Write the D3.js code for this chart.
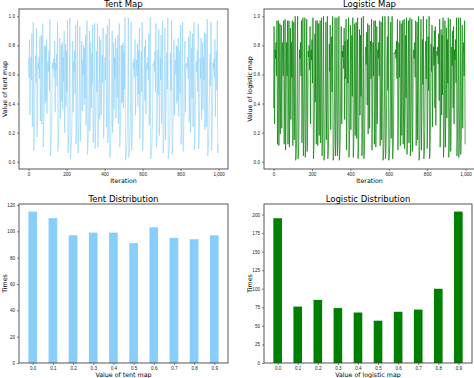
<!DOCTYPE html>
<html>
<head>
<meta charset="utf-8">
<script src="https://d3js.org/d3.v7.min.js"></script>
<style>
body { margin: 0; background: #fff; }
svg { display: block; font-family: "DejaVu Sans", sans-serif; }
.tick text { font-size: 4.6px; fill: #222; }
.tick line { stroke: #333; stroke-width: 0.6; }
.domain { display: none; }
</style>
</head>
<body>
<div id="chart"></div>
<script>
// tent map values (400 samples over 1000 iterations)
var tentValues = [
 0.71,0.58,0.84,0.32,0.64,0.72,0.56,0.88,0.24,0.48,0.96,0.08,0.16,0.32,0.64,0.73,0.54,0.92,0.17,0.34,
 0.68,0.64,0.72,0.57,0.86,0.28,0.56,0.87,0.26,0.52,0.95,0.10,0.20,0.40,0.80,0.40,0.79,0.42,0.84,0.33,
 0.66,0.69,0.62,0.76,0.49,0.98,0.04,0.08,0.16,0.33,0.66,0.68,0.64,0.71,0.58,0.83,0.34,0.68,0.63,0.74,
 0.52,0.96,0.07,0.14,0.28,0.57,0.85,0.30,0.60,0.80,0.41,0.82,0.36,0.72,0.55,0.90,0.20,0.40,0.81,0.38,
 0.76,0.48,0.97,0.06,0.12,0.25,0.50,0.99,0.02,0.05,0.10,0.21,0.42,0.83,0.34,0.69,0.62,0.76,0.47,0.94,
 0.12,0.24,0.49,0.97,0.06,0.13,0.26,0.53,0.93,0.14,0.29,0.58,0.83,0.35,0.70,0.60,0.80,0.39,0.78,0.44,
 0.87,0.25,0.51,0.97,0.05,0.11,0.22,0.45,0.90,0.21,0.41,0.82,0.37,0.74,0.53,0.94,0.13,0.26,0.52,0.95,
 0.09,0.19,0.38,0.76,0.48,0.95,0.10,0.21,0.43,0.86,0.29,0.58,0.84,0.32,0.63,0.73,0.54,0.92,0.16,0.32,
 0.64,0.72,0.56,0.88,0.24,0.47,0.94,0.13,0.26,0.51,0.98,0.03,0.07,0.14,0.28,0.55,0.90,0.20,0.41,0.82,
 0.36,0.72,0.57,0.85,0.30,0.61,0.78,0.44,0.87,0.26,0.52,0.95,0.10,0.20,0.40,0.80,0.40,0.80,0.41,0.82,
 0.37,0.75,0.50,0.99,0.01,0.03,0.06,0.12,0.25,0.50,0.99,0.03,0.06,0.12,0.24,0.48,0.96,0.08,0.17,0.34,
 0.68,0.64,0.71,0.58,0.84,0.32,0.65,0.70,0.59,0.81,0.38,0.77,0.46,0.92,0.16,0.31,0.62,0.76,0.48,0.96,
 0.08,0.15,0.30,0.60,0.79,0.42,0.84,0.33,0.66,0.68,0.64,0.72,0.56,0.88,0.25,0.50,0.99,0.02,0.04,0.08,
 0.17,0.34,0.67,0.66,0.69,0.62,0.76,0.48,0.95,0.10,0.19,0.39,0.77,0.46,0.91,0.18,0.36,0.72,0.56,0.87,
 0.26,0.51,0.97,0.06,0.11,0.23,0.46,0.92,0.15,0.31,0.62,0.75,0.50,0.99,0.02,0.05,0.09,0.19,0.38,0.75,
 0.49,0.97,0.05,0.10,0.21,0.42,0.84,0.32,0.65,0.70,0.60,0.80,0.40,0.79,0.42,0.85,0.31,0.62,0.76,0.47,
 0.94,0.12,0.24,0.48,0.96,0.07,0.15,0.29,0.58,0.83,0.34,0.67,0.66,0.68,0.64,0.72,0.57,0.86,0.27,0.55,
 0.90,0.20,0.39,0.78,0.44,0.88,0.24,0.48,0.96,0.08,0.16,0.33,0.66,0.69,0.62,0.76,0.48,0.95,0.09,0.18,
 0.36,0.71,0.57,0.85,0.29,0.59,0.82,0.36,0.72,0.56,0.89,0.22,0.44,0.88,0.24,0.49,0.98,0.04,0.08,0.16,
 0.31,0.63,0.74,0.52,0.96,0.08,0.17,0.34,0.68,0.64,0.71,0.58,0.84,0.31,0.62,0.76,0.49,0.97,0.06,0.12
];

// logistic map values, same sampling
var logisticValues = [
 0.37,0.93,0.26,0.77,0.71,0.82,0.59,0.97,0.12,0.42,0.97,0.11,0.39,0.95,0.19,0.62,0.94,0.23,0.71,0.82,
 0.59,0.97,0.12,0.42,0.98,0.08,0.29,0.82,0.59,0.97,0.12,0.42,0.97,0.10,0.36,0.92,0.29,0.82,0.58,0.97,
 0.11,0.40,0.96,0.15,0.51,1.00,0.01,0.04,0.15,0.52,1.00,0.02,0.07,0.26,0.77,0.71,0.82,0.59,0.97,0.13,
 0.45,0.99,0.04,0.16,0.54,0.99,0.03,0.12,0.43,0.98,0.07,0.26,0.76,0.72,0.80,0.63,0.93,0.26,0.77,0.70,
 0.84,0.54,0.99,0.02,0.09,0.33,0.88,0.41,0.97,0.12,0.41,0.97,0.11,0.39,0.95,0.18,0.59,0.97,0.13,0.45,
 0.99,0.04,0.15,0.51,1.00,0.01,0.05,0.18,0.60,0.96,0.15,0.50,1.00,0.02,0.08,0.28,0.81,0.62,0.94,0.22,
 0.69,0.86,0.48,1.00,0.01,0.03,0.13,0.44,0.99,0.04,0.16,0.55,0.99,0.04,0.14,0.48,1.00,0.01,0.05,0.20,
 0.63,0.93,0.26,0.76,0.72,0.80,0.64,0.92,0.29,0.83,0.57,0.98,0.08,0.30,0.84,0.54,0.99,0.03,0.11,0.38,
 0.94,0.22,0.68,0.87,0.45,0.99,0.03,0.11,0.39,0.95,0.18,0.60,0.96,0.16,0.54,0.99,0.02,0.10,0.35,0.91,
 0.32,0.87,0.45,0.99,0.04,0.15,0.51,1.00,0.02,0.06,0.24,0.73,0.79,0.67,0.89,0.39,0.95,0.19,0.62,0.94,
 0.23,0.71,0.83,0.57,0.98,0.08,0.29,0.82,0.59,0.97,0.12,0.42,0.97,0.10,0.37,0.93,0.26,0.77,0.71,0.82,
 0.59,0.97,0.11,0.40,0.96,0.15,0.52,1.00,0.01,0.04,0.14,0.48,1.00,0.02,0.06,0.22,0.69,0.86,0.49,1.00,
 0.01,0.03,0.11,0.40,0.96,0.16,0.53,1.00,0.02,0.07,0.25,0.75,0.75,0.74,0.77,0.71,0.83,0.57,0.98,0.08,
 0.29,0.82,0.58,0.97,0.11,0.39,0.95,0.18,0.59,0.97,0.12,0.42,0.98,0.09,0.32,0.87,0.44,0.99,0.05,0.18,
 0.59,0.97,0.13,0.45,0.99,0.04,0.17,0.56,0.98,0.07,0.25,0.74,0.77,0.71,0.82,0.58,0.97,0.11,0.40,0.96,
 0.15,0.52,1.00,0.01,0.04,0.17,0.57,0.98,0.08,0.30,0.84,0.53,1.00,0.02,0.06,0.23,0.71,0.83,0.57,0.98,
 0.09,0.31,0.86,0.49,1.00,0.02,0.08,0.28,0.81,0.62,0.94,0.24,0.73,0.79,0.66,0.90,0.37,0.93,0.25,0.75,
 0.76,0.73,0.79,0.67,0.88,0.42,0.98,0.10,0.35,0.91,0.32,0.87,0.46,0.99,0.03,0.12,0.42,0.97,0.10,0.36,
 0.92,0.30,0.84,0.54,0.99,0.03,0.12,0.43,0.98,0.07,0.27,0.79,0.66,0.90,0.37,0.93,0.26,0.77,0.70,0.84,
 0.54,0.99,0.04,0.16,0.55,0.99,0.03,0.13,0.44,0.99,0.05,0.19,0.62,0.94,0.23,0.71,0.82,0.59,0.97,0.12
];
var iterationStep = 2.5;

// histogram bins and counts
var bins = [0.0, 0.1, 0.2, 0.3, 0.4, 0.5, 0.6, 0.7, 0.8, 0.9];
var tentCounts = [115, 110, 97, 99, 99, 91, 103, 95, 94, 97];
var logisticCounts = [195, 76, 85, 74, 68, 57, 69, 72, 100, 204];

var mapTicks = [0, 200, 400, 600, 800, 1000];
var valueTicks = [0.0, 0.2, 0.4, 0.6, 0.8, 1.0];
var tentCountTicks = [0, 20, 40, 60, 80, 100, 120];
var logisticCountTicks = [0, 25, 50, 75, 100, 125, 150, 175, 200];

var width = 474, height = 378;
var svg = d3.select('#chart').append('svg')
    .attr('width', width)
    .attr('height', height);

function frame(g, w, h) {
    g.append('rect')
        .attr('width', w).attr('height', h)
        .attr('fill', 'none')
        .attr('stroke', '#444')
        .attr('stroke-width', 0.9);
}

function labels(g, w, h, title, xlab, ylab, ylabX) {
    g.append('text').attr('x', w / 2).attr('y', -2.5)
        .attr('text-anchor', 'middle').attr('font-size', 8.5).text(title);
    g.append('text').attr('x', w / 2).attr('y', h + 13.5)
        .attr('text-anchor', 'middle').attr('font-size', 6.3).text(xlab);
    g.append('text').attr('transform', 'translate(' + ylabX + ',' + (h / 2) + ') rotate(-90)')
        .attr('text-anchor', 'middle').attr('font-size', 6.3).text(ylab);
}

function mapPanel(left, top, w, h, values, color, width, opacity, title, ylab, ylabX) {
    var g = svg.append('g').attr('transform', 'translate(' + left + ',' + top + ')');
    var x = d3.scaleLinear().domain([-50, 1049]).range([0, w]);
    var y = d3.scaleLinear().domain([-0.05, 1.05]).range([h, 0]);

    var line = d3.line()
        .x(function(d, i) { return x(i * iterationStep); })
        .y(function(d) { return y(d); });

    g.append('path').datum(values)
        .attr('d', line)
        .attr('fill', 'none')
        .attr('stroke', color)
        .attr('stroke-width', width)
        .attr('stroke-opacity', opacity);

    g.append('g').attr('transform', 'translate(0,' + h + ')')
        .call(d3.axisBottom(x).tickValues(mapTicks).tickSize(2).tickPadding(1.5));
    g.append('g')
        .call(d3.axisLeft(y).tickValues(valueTicks).tickSize(2).tickPadding(2).tickFormat(d3.format('.1f')));
    frame(g, w, h);
    labels(g, w, h, title, 'Iteration', ylab, ylabX);
}

function barPanel(left, top, w, h, counts, ticks, color, title, xlab, ylabX) {
    var g = svg.append('g').attr('transform', 'translate(' + left + ',' + top + ')');
    var barW = 0.043;
    var x = d3.scaleLinear().domain([-0.068, 0.968]).range([0, w]);
    var y = d3.scaleLinear().domain([0, d3.max(counts) * 1.05]).range([h, 0]);

    g.selectAll('rect.bar')
        .data(counts)
        .enter()
        .append('rect')
        .attr('class', 'bar')
        .attr('x', function(d, i) { return x(bins[i] - barW / 2); })
        .attr('width', x(barW) - x(0))
        .attr('y', function(d) { return y(d); })
        .attr('height', function(d) { return h - y(d); })
        .attr('fill', color);

    g.append('g').attr('transform', 'translate(0,' + h + ')')
        .call(d3.axisBottom(x).tickValues(bins).tickSize(2).tickPadding(1.5).tickFormat(d3.format('.1f')));
    g.append('g')
        .call(d3.axisLeft(y).tickValues(ticks).tickSize(2).tickPadding(2));
    frame(g, w, h);
    labels(g, w, h, title, xlab, 'Times', ylabX);
}

mapPanel(19, 9, 209, 160, tentValues, '#87cefa', 0.75, 0.75, 'Tent Map', 'Value of tent map', -12.5);
mapPanel(264, 9, 211, 160, logisticValues, 'green', 0.8, 0.85, 'Logistic Map', 'Value of logistic map', -12);
barPanel(19, 204, 209, 159, tentCounts, tentCountTicks, '#87cefa', 'Tent Distribution', 'Value of tent map', -12.5);
barPanel(264, 204, 208, 159, logisticCounts, logisticCountTicks, 'green', 'Logistic Distribution', 'Value of logistic map', -12);
</script>
</body>
</html>
